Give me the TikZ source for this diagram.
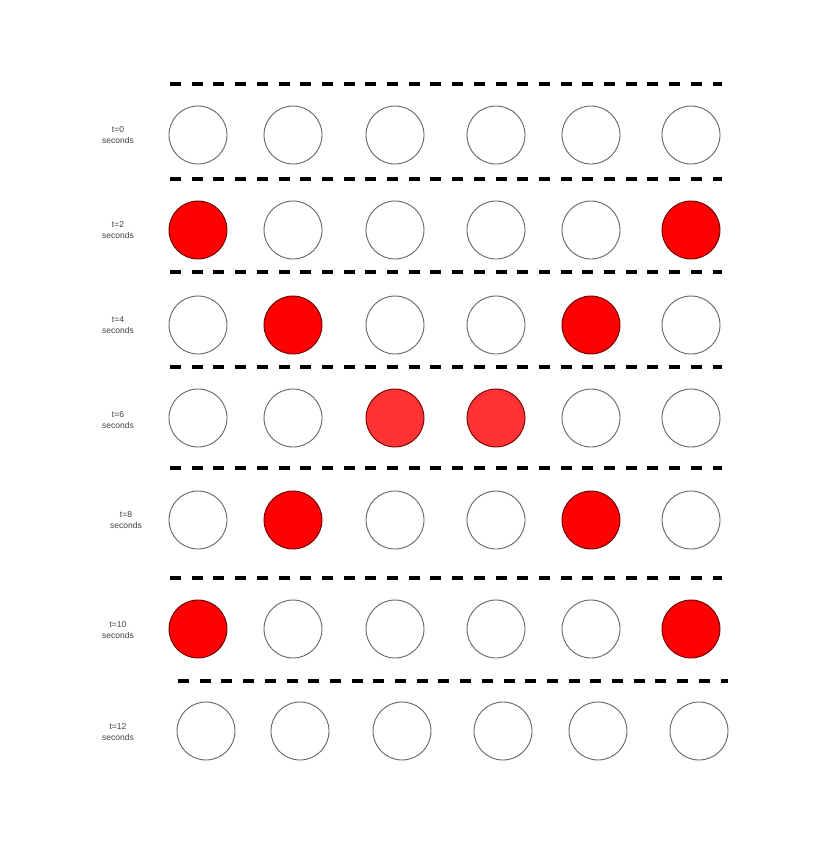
\documentclass[tikz,border=0pt]{standalone}
\usepackage{fontspec}
\setmainfont{Liberation Sans}
\begin{document}
\begin{tikzpicture}[x=1pt,y=-1pt,
  ball/.style={circle,draw=black!60,line width=0.9pt,minimum size=58pt,inner sep=0pt,fill=white},
  hot/.style={ball,fill=red,draw=black!60!red},
  warm/.style={ball,fill={rgb,255:red,255;green,51;blue,51},draw=black!55!red},
  sep/.style={line width=3.8pt,dash pattern=on 11pt off 10.7pt},
  lbl/.style={font=\fontsize{8.5}{10.5}\selectfont,text=black!75,align=center,inner sep=0pt}]
\useasboundingbox (0,0) rectangle (828,859);
% dashed separators
\coordinate (s0a) at (170,84);  \coordinate (s0b) at (722,84);
\coordinate (s1a) at (170,179); \coordinate (s1b) at (722,179);
\coordinate (s2a) at (170,272); \coordinate (s2b) at (722,272);
\coordinate (s3a) at (170,367); \coordinate (s3b) at (722,367);
\coordinate (s4a) at (170,468); \coordinate (s4b) at (722,468);
\coordinate (s5a) at (170,578); \coordinate (s5b) at (722,578);
\coordinate (s6a) at (178,681); \coordinate (s6b) at (728,681);
\foreach \i in {0,...,6} \draw[sep] (s\i a) -- (s\i b);
% row labels
\node[lbl] (l0) at (118,135) {t=0\\seconds};
\node[lbl] (l1) at (118,230) {t=2\\seconds};
\node[lbl] (l2) at (118,325) {t=4\\seconds};
\node[lbl] (l3) at (118,420) {t=6\\seconds};
\node[lbl] (l4) at (126,520) {t=8\\seconds};
\node[lbl] (l5) at (118,630) {t=10\\seconds};
\node[lbl] (l6) at (118,732) {t=12\\seconds};
% row t=0
\node[ball] (a1) at (198,135) {};
\node[ball] (a2) at (293,135) {};
\node[ball] (a3) at (395,135) {};
\node[ball] (a4) at (496,135) {};
\node[ball] (a5) at (591,135) {};
\node[ball] (a6) at (691,135) {};
% row t=2
\node[hot]  (b1) at (198,230) {};
\node[ball] (b2) at (293,230) {};
\node[ball] (b3) at (395,230) {};
\node[ball] (b4) at (496,230) {};
\node[ball] (b5) at (591,230) {};
\node[hot]  (b6) at (691,230) {};
% row t=4
\node[ball] (c1) at (198,325) {};
\node[hot]  (c2) at (293,325) {};
\node[ball] (c3) at (395,325) {};
\node[ball] (c4) at (496,325) {};
\node[hot]  (c5) at (591,325) {};
\node[ball] (c6) at (691,325) {};
% row t=6
\node[ball] (d1) at (198,418) {};
\node[ball] (d2) at (293,418) {};
\node[warm] (d3) at (395,418) {};
\node[warm] (d4) at (496,418) {};
\node[ball] (d5) at (591,418) {};
\node[ball] (d6) at (691,418) {};
% row t=8
\node[ball] (e1) at (198,520) {};
\node[hot]  (e2) at (293,520) {};
\node[ball] (e3) at (395,520) {};
\node[ball] (e4) at (496,520) {};
\node[hot]  (e5) at (591,520) {};
\node[ball] (e6) at (691,520) {};
% row t=10
\node[hot]  (f1) at (198,629) {};
\node[ball] (f2) at (293,629) {};
\node[ball] (f3) at (395,629) {};
\node[ball] (f4) at (496,629) {};
\node[ball] (f5) at (591,629) {};
\node[hot]  (f6) at (691,629) {};
% row t=12
\node[ball] (g1) at (206,731) {};
\node[ball] (g2) at (300,731) {};
\node[ball] (g3) at (402,731) {};
\node[ball] (g4) at (503,731) {};
\node[ball] (g5) at (598,731) {};
\node[ball] (g6) at (699,731) {};
\end{tikzpicture}
\end{document}
